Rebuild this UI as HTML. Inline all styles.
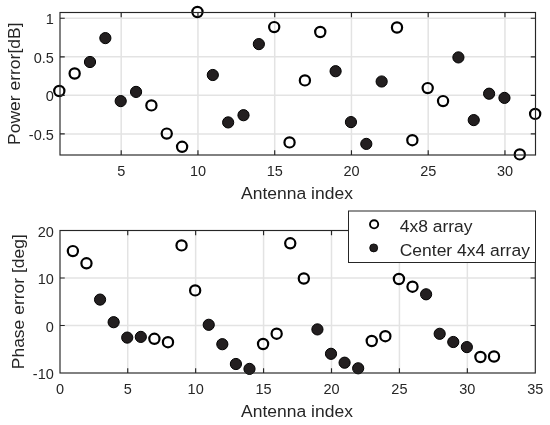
<!DOCTYPE html><html><head><meta charset="utf-8"><style>html,body{margin:0;padding:0;background:#fff;width:550px;height:425px;overflow:hidden}svg{display:block}text{font-family:"Liberation Sans",Arial,Helvetica,sans-serif;fill:#262626}</style></head><body>
<svg width="550" height="425" viewBox="0 0 550 425">
<g><rect width="550" height="425" fill="#fff"/>
<path d="M121.20 12.5V155.0M197.95 12.5V155.0M274.70 12.5V155.0M351.45 12.5V155.0M428.20 12.5V155.0M504.95 12.5V155.0M60.0 18.27H535.5M60.0 56.81H535.5M60.0 95.34H535.5M60.0 133.88H535.5" stroke="#e3e3e3" stroke-width="1.5" fill="none"/>
<circle cx="59.30" cy="91.00" r="5.1" fill="none" stroke="#000" stroke-width="2.2"/>
<circle cx="74.65" cy="73.50" r="5.1" fill="none" stroke="#000" stroke-width="2.2"/>
<circle cx="90.00" cy="62.00" r="5.6" fill="#231f20" stroke="#000" stroke-width="1"/>
<circle cx="105.35" cy="38.10" r="5.6" fill="#231f20" stroke="#000" stroke-width="1"/>
<circle cx="120.70" cy="101.10" r="5.6" fill="#231f20" stroke="#000" stroke-width="1"/>
<circle cx="136.05" cy="91.90" r="5.6" fill="#231f20" stroke="#000" stroke-width="1"/>
<circle cx="151.40" cy="105.40" r="5.1" fill="none" stroke="#000" stroke-width="2.2"/>
<circle cx="166.75" cy="133.60" r="5.1" fill="none" stroke="#000" stroke-width="2.2"/>
<circle cx="182.10" cy="146.80" r="5.1" fill="none" stroke="#000" stroke-width="2.2"/>
<circle cx="197.45" cy="12.00" r="5.1" fill="none" stroke="#000" stroke-width="2.2"/>
<circle cx="212.80" cy="75.00" r="5.6" fill="#231f20" stroke="#000" stroke-width="1"/>
<circle cx="228.15" cy="122.40" r="5.6" fill="#231f20" stroke="#000" stroke-width="1"/>
<circle cx="243.50" cy="115.20" r="5.6" fill="#231f20" stroke="#000" stroke-width="1"/>
<circle cx="258.85" cy="44.10" r="5.6" fill="#231f20" stroke="#000" stroke-width="1"/>
<circle cx="274.20" cy="27.10" r="5.1" fill="none" stroke="#000" stroke-width="2.2"/>
<circle cx="289.55" cy="142.40" r="5.1" fill="none" stroke="#000" stroke-width="2.2"/>
<circle cx="304.90" cy="80.40" r="5.1" fill="none" stroke="#000" stroke-width="2.2"/>
<circle cx="320.25" cy="32.00" r="5.1" fill="none" stroke="#000" stroke-width="2.2"/>
<circle cx="335.60" cy="71.20" r="5.6" fill="#231f20" stroke="#000" stroke-width="1"/>
<circle cx="350.95" cy="122.10" r="5.6" fill="#231f20" stroke="#000" stroke-width="1"/>
<circle cx="366.30" cy="143.90" r="5.6" fill="#231f20" stroke="#000" stroke-width="1"/>
<circle cx="381.65" cy="81.50" r="5.6" fill="#231f20" stroke="#000" stroke-width="1"/>
<circle cx="397.00" cy="27.50" r="5.1" fill="none" stroke="#000" stroke-width="2.2"/>
<circle cx="412.35" cy="140.20" r="5.1" fill="none" stroke="#000" stroke-width="2.2"/>
<circle cx="427.70" cy="88.10" r="5.1" fill="none" stroke="#000" stroke-width="2.2"/>
<circle cx="443.05" cy="101.10" r="5.1" fill="none" stroke="#000" stroke-width="2.2"/>
<circle cx="458.40" cy="57.40" r="5.6" fill="#231f20" stroke="#000" stroke-width="1"/>
<circle cx="473.75" cy="120.10" r="5.6" fill="#231f20" stroke="#000" stroke-width="1"/>
<circle cx="489.10" cy="93.70" r="5.6" fill="#231f20" stroke="#000" stroke-width="1"/>
<circle cx="504.45" cy="97.90" r="5.6" fill="#231f20" stroke="#000" stroke-width="1"/>
<circle cx="519.80" cy="154.40" r="5.1" fill="none" stroke="#000" stroke-width="2.2"/>
<circle cx="535.15" cy="113.90" r="5.1" fill="none" stroke="#000" stroke-width="2.2"/>
<path d="M121.20 155.0v-4.75M121.20 12.5v4.75M197.95 155.0v-4.75M197.95 12.5v4.75M274.70 155.0v-4.75M274.70 12.5v4.75M351.45 155.0v-4.75M351.45 12.5v4.75M428.20 155.0v-4.75M428.20 12.5v4.75M504.95 155.0v-4.75M504.95 12.5v4.75M60.0 18.27h4.75M535.5 18.27h-4.75M60.0 56.81h4.75M535.5 56.81h-4.75M60.0 95.34h4.75M535.5 95.34h-4.75M60.0 133.88h4.75M535.5 133.88h-4.75" stroke="#262626" stroke-width="1.15" fill="none"/>
<rect x="60.0" y="12.5" width="475.50" height="142.50" stroke="#262626" stroke-width="1.15" fill="none"/>
<text transform="translate(121.20 176.1) scale(1 1)" font-size="14.5" text-anchor="middle">5</text>
<text transform="translate(197.95 176.1) scale(1 1)" font-size="14.5" text-anchor="middle">10</text>
<text transform="translate(274.70 176.1) scale(1 1)" font-size="14.5" text-anchor="middle">15</text>
<text transform="translate(351.45 176.1) scale(1 1)" font-size="14.5" text-anchor="middle">20</text>
<text transform="translate(428.20 176.1) scale(1 1)" font-size="14.5" text-anchor="middle">25</text>
<text transform="translate(504.95 176.1) scale(1 1)" font-size="14.5" text-anchor="middle">30</text>
<text transform="translate(53.8 24.0) scale(1 1)" font-size="14.5" text-anchor="end">1</text>
<text transform="translate(53.8 62.5) scale(1 1)" font-size="14.5" text-anchor="end">0.5</text>
<text transform="translate(53.8 101.0) scale(1 1)" font-size="14.5" text-anchor="end">0</text>
<text transform="translate(53.8 139.6) scale(1 1)" font-size="14.5" text-anchor="end">-0.5</text>
<text transform="translate(297.0 199.4) scale(1 0.92)" font-size="17.5" text-anchor="middle">Antenna index</text>
<text transform="translate(19.6 83.7) rotate(-90) scale(1 0.92)" font-size="17.5" text-anchor="middle">Power error[dB]</text>
<path d="M127.73 230.5V373.0M195.65 230.5V373.0M263.57 230.5V373.0M331.50 230.5V373.0M399.43 230.5V373.0M467.35 230.5V373.0M60.0 278.00H535.3M60.0 325.50H535.3" stroke="#e3e3e3" stroke-width="1.5" fill="none"/>
<circle cx="72.88" cy="251.10" r="5.1" fill="none" stroke="#000" stroke-width="2.2"/>
<circle cx="86.47" cy="263.30" r="5.1" fill="none" stroke="#000" stroke-width="2.2"/>
<circle cx="100.06" cy="299.60" r="5.6" fill="#231f20" stroke="#000" stroke-width="1"/>
<circle cx="113.64" cy="322.20" r="5.6" fill="#231f20" stroke="#000" stroke-width="1"/>
<circle cx="127.23" cy="337.60" r="5.6" fill="#231f20" stroke="#000" stroke-width="1"/>
<circle cx="140.81" cy="336.90" r="5.6" fill="#231f20" stroke="#000" stroke-width="1"/>
<circle cx="154.39" cy="338.80" r="5.1" fill="none" stroke="#000" stroke-width="2.2"/>
<circle cx="167.98" cy="342.20" r="5.1" fill="none" stroke="#000" stroke-width="2.2"/>
<circle cx="181.56" cy="245.40" r="5.1" fill="none" stroke="#000" stroke-width="2.2"/>
<circle cx="195.15" cy="290.40" r="5.1" fill="none" stroke="#000" stroke-width="2.2"/>
<circle cx="208.74" cy="324.80" r="5.6" fill="#231f20" stroke="#000" stroke-width="1"/>
<circle cx="222.32" cy="344.20" r="5.6" fill="#231f20" stroke="#000" stroke-width="1"/>
<circle cx="235.91" cy="364.00" r="5.6" fill="#231f20" stroke="#000" stroke-width="1"/>
<circle cx="249.49" cy="368.90" r="5.6" fill="#231f20" stroke="#000" stroke-width="1"/>
<circle cx="263.07" cy="344.00" r="5.1" fill="none" stroke="#000" stroke-width="2.2"/>
<circle cx="276.66" cy="333.70" r="5.1" fill="none" stroke="#000" stroke-width="2.2"/>
<circle cx="290.25" cy="243.30" r="5.1" fill="none" stroke="#000" stroke-width="2.2"/>
<circle cx="303.83" cy="278.50" r="5.1" fill="none" stroke="#000" stroke-width="2.2"/>
<circle cx="317.42" cy="329.40" r="5.6" fill="#231f20" stroke="#000" stroke-width="1"/>
<circle cx="331.00" cy="353.80" r="5.6" fill="#231f20" stroke="#000" stroke-width="1"/>
<circle cx="344.59" cy="362.70" r="5.6" fill="#231f20" stroke="#000" stroke-width="1"/>
<circle cx="358.17" cy="368.30" r="5.6" fill="#231f20" stroke="#000" stroke-width="1"/>
<circle cx="371.76" cy="341.00" r="5.1" fill="none" stroke="#000" stroke-width="2.2"/>
<circle cx="385.34" cy="336.20" r="5.1" fill="none" stroke="#000" stroke-width="2.2"/>
<circle cx="398.93" cy="279.00" r="5.1" fill="none" stroke="#000" stroke-width="2.2"/>
<circle cx="412.51" cy="286.70" r="5.1" fill="none" stroke="#000" stroke-width="2.2"/>
<circle cx="426.10" cy="294.30" r="5.6" fill="#231f20" stroke="#000" stroke-width="1"/>
<circle cx="439.68" cy="333.80" r="5.6" fill="#231f20" stroke="#000" stroke-width="1"/>
<circle cx="453.27" cy="342.00" r="5.6" fill="#231f20" stroke="#000" stroke-width="1"/>
<circle cx="466.85" cy="347.10" r="5.6" fill="#231f20" stroke="#000" stroke-width="1"/>
<circle cx="480.44" cy="357.00" r="5.1" fill="none" stroke="#000" stroke-width="2.2"/>
<circle cx="494.02" cy="356.50" r="5.1" fill="none" stroke="#000" stroke-width="2.2"/>
<path d="M127.73 373.0v-4.75M127.73 230.5v4.75M195.65 373.0v-4.75M195.65 230.5v4.75M263.57 373.0v-4.75M263.57 230.5v4.75M331.50 373.0v-4.75M331.50 230.5v4.75M399.43 373.0v-4.75M399.43 230.5v4.75M467.35 373.0v-4.75M467.35 230.5v4.75M60.0 278.00h4.75M535.3 278.00h-4.75M60.0 325.50h4.75M535.3 325.50h-4.75" stroke="#262626" stroke-width="1.15" fill="none"/>
<rect x="60.0" y="230.5" width="475.30" height="142.50" stroke="#262626" stroke-width="1.15" fill="none"/>
<text transform="translate(60.00 393.8) scale(1 1)" font-size="14.5" text-anchor="middle">0</text>
<text transform="translate(127.73 393.8) scale(1 1)" font-size="14.5" text-anchor="middle">5</text>
<text transform="translate(195.65 393.8) scale(1 1)" font-size="14.5" text-anchor="middle">10</text>
<text transform="translate(263.57 393.8) scale(1 1)" font-size="14.5" text-anchor="middle">15</text>
<text transform="translate(331.50 393.8) scale(1 1)" font-size="14.5" text-anchor="middle">20</text>
<text transform="translate(399.43 393.8) scale(1 1)" font-size="14.5" text-anchor="middle">25</text>
<text transform="translate(467.35 393.8) scale(1 1)" font-size="14.5" text-anchor="middle">30</text>
<text transform="translate(535.30 393.8) scale(1 1)" font-size="14.5" text-anchor="middle">35</text>
<text transform="translate(53.8 236.6) scale(1 1)" font-size="14.5" text-anchor="end">20</text>
<text transform="translate(53.8 284.1) scale(1 1)" font-size="14.5" text-anchor="end">10</text>
<text transform="translate(53.8 331.6) scale(1 1)" font-size="14.5" text-anchor="end">0</text>
<text transform="translate(53.8 379.1) scale(1 1)" font-size="14.5" text-anchor="end">-10</text>
<text transform="translate(297.0 417.4) scale(1 0.92)" font-size="17.5" text-anchor="middle">Antenna index</text>
<text transform="translate(23.9 301.7) rotate(-90) scale(1 0.92)" font-size="17.5" text-anchor="middle">Phase error [deg]</text>
<rect x="348.5" y="211" width="187" height="51.5" fill="#fff" stroke="#262626" stroke-width="1"/>
<circle cx="374.1" cy="224.3" r="4.1" fill="none" stroke="#000" stroke-width="1.9"/>
<circle cx="373.7" cy="247.9" r="4.0" fill="#231f20" stroke="#000" stroke-width="0.8"/>
<text transform="translate(399.7 231.6) scale(1 0.92)" font-size="17.5">4x8 array</text>
<text transform="translate(399.7 255.6) scale(1 0.92)" font-size="17.5">Center 4x4 array</text>
</g></svg></body></html>
